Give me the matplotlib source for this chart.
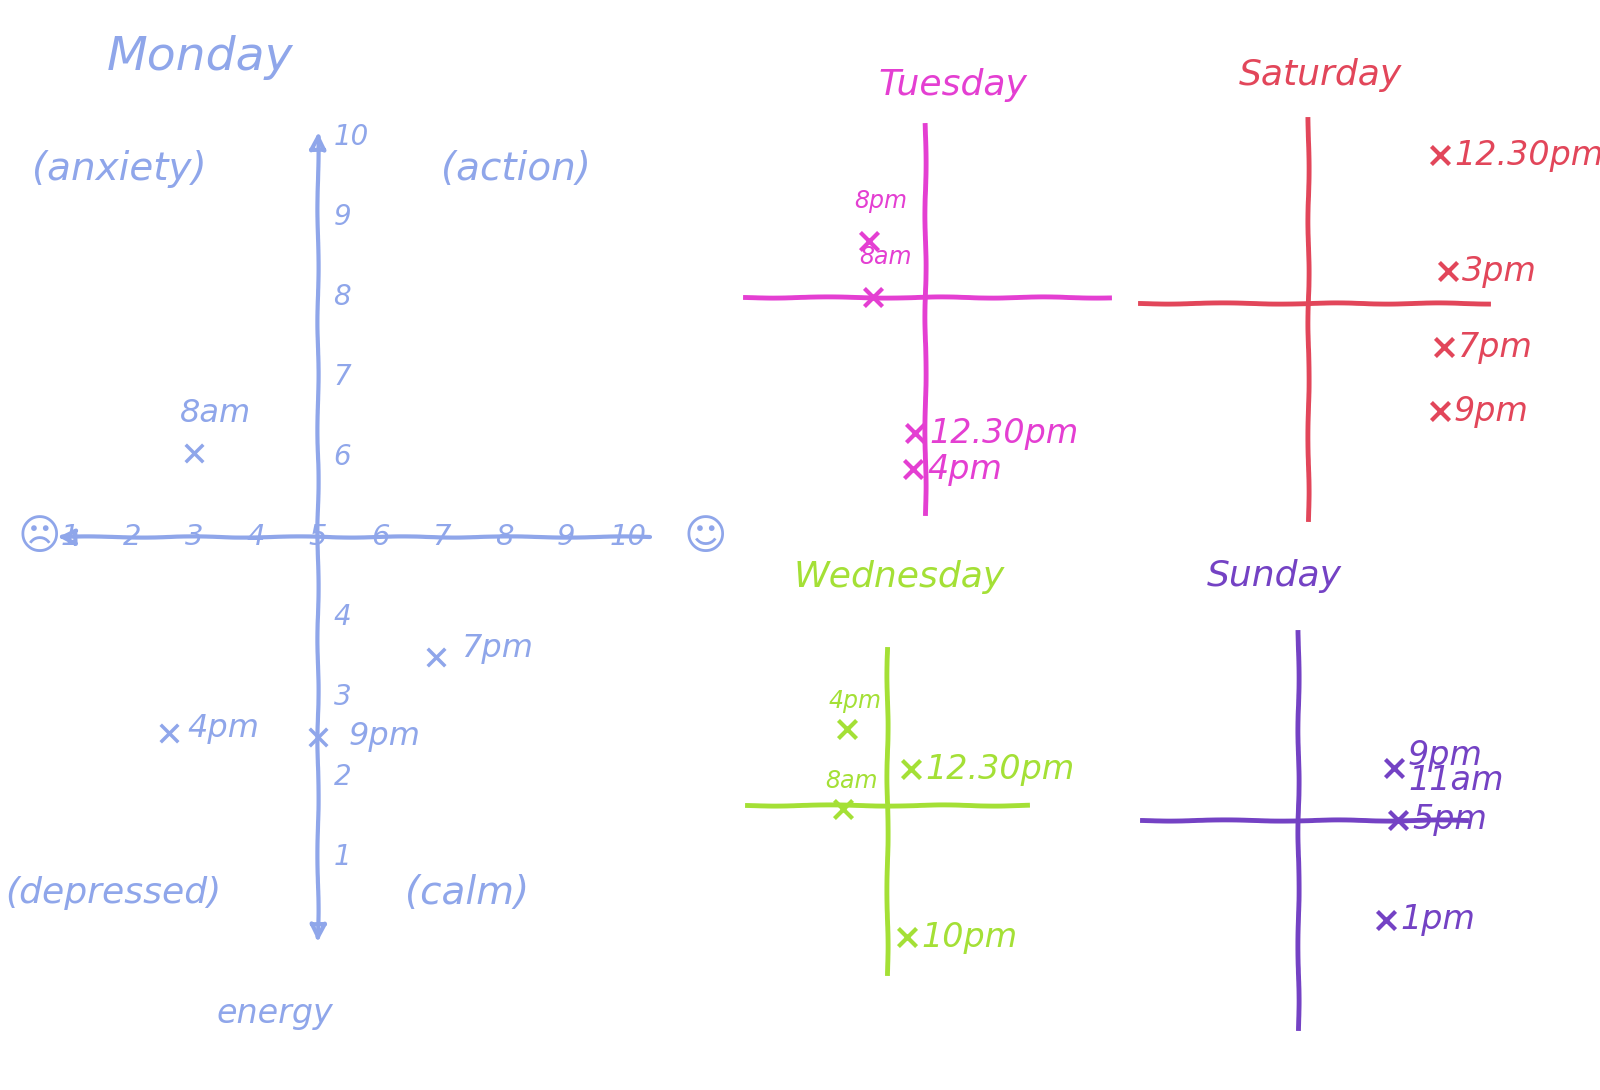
import matplotlib
matplotlib.use("Agg")
import matplotlib.pyplot as plt

plt.rcParams['font.family'] = ['DejaVu Sans']
plt.rcParams['path.sketch'] = (0.6, 120, 2)

W, H = 1600, 1090
fig = plt.figure(figsize=(16, 10.9), dpi=100)
fig.patch.set_facecolor('white')

# ---------------- Monday data ----------------
mon_color = '#8fa6ea'
mon_x_ticks = [1, 2, 3, 4, 5, 6, 7, 8, 9, 10]
mon_y_ticks_up = [6, 7, 8, 9, 10]
mon_y_ticks_down = [1, 2, 3, 4]
mon_labels = ['8am', '7pm', '4pm', '9pm']
mon_mood = [3.0, 6.9, 2.6, 5.0]
mon_energy = [6.05, 3.5, 2.55, 2.5]

# ---------------- Other days ----------------
days = ['Tuesday', 'Saturday', 'Wednesday', 'Sunday']
day_colors = ['#e43fd2', '#e2465a', '#a4e036', '#7442c4']
tue_labels = ['8pm', '8am', '12.30pm', '4pm']
tue_mood = [-1.4, -1.3, -0.25, -0.3]
tue_energy = [1.4, 0.0, -3.4, -4.3]
sat_labels = ['12.30pm', '3pm', '7pm', '9pm']
sat_mood = [3.3, 3.5, 3.4, 3.3]
sat_energy = [3.7, 0.8, -1.1, -2.7]
wed_labels = ['4pm', '8am', '12.30pm', '10pm']
wed_mood = [-1.0, -1.1, 0.6, 0.5]
wed_energy = [1.9, -0.1, 0.9, -3.3]
sun_labels = ['9pm\n11am', '5pm', '1pm']
sun_mood = [2.4, 2.5, 2.2]
sun_energy = [1.3, 0.0, -2.5]

# ---------------- Monday axes ----------------
ux, uy = 62.0, 80.0
cx0, cy0 = 318, 537
ax = fig.add_axes([0, 0, 0.45, 1])
ax.set_xlim(5 - cx0 / ux, 5 + (720 - cx0) / ux)
ax.set_ylim(5 - (H - cy0) / uy, 5 + cy0 / uy)
ax.axis('off')
ax.annotate('', xy=(5, 10.1), xytext=(5, -0.1),
            arrowprops=dict(arrowstyle='<|-|>', color=mon_color, lw=3, mutation_scale=25, fill=False))
ax.annotate('', xy=(0.75, 5), xytext=(10.4, 5),
            arrowprops=dict(arrowstyle='-|>', color=mon_color, lw=3, mutation_scale=25, fill=False))
for t in mon_x_ticks:
    ax.text(t, 5, str(t), color=mon_color, fontsize=21, ha='center', va='center', style='italic')
for t in mon_y_ticks_up + mon_y_ticks_down:
    ax.text(5.25, t, str(t), color=mon_color, fontsize=20, ha='left', va='center', style='italic')
ax.text(0.5, 5, '☹', color=mon_color, fontsize=30, ha='center', va='center')
ax.text(11.25, 5, '☺', color=mon_color, fontsize=30, ha='center', va='center')
ax.text(3.1, 11.0, 'Monday', color=mon_color, fontsize=34, ha='center', va='center', style='italic')
ax.text(1.8, 9.6, '(anxiety)', color=mon_color, fontsize=28, ha='center', va='center', style='italic')
ax.text(8.2, 9.6, '(action)', color=mon_color, fontsize=28, ha='center', va='center', style='italic')
ax.text(1.7, 0.55, '(depressed)', color=mon_color, fontsize=26, ha='center', va='center', style='italic')
ax.text(7.4, 0.55, '(calm)', color=mon_color, fontsize=28, ha='center', va='center', style='italic')
ax.text(4.3, -0.95, 'energy', color=mon_color, fontsize=24, ha='center', va='center', style='italic')
ax.scatter(mon_mood, mon_energy, marker='x', s=160, color=mon_color, linewidths=2.5)
offs = [(0.35, 0.5, 'center'), (0.4, 0.1, 'left'), (0.3, 0.05, 'left'), (0.5, 0.0, 'left')]
for lab, x, y, (dx, dy, ha) in zip(mon_labels, mon_mood, mon_energy, offs):
    ax.text(x + dx, y + dy, lab, color=mon_color, fontsize=23, ha=ha, va='center', style='italic')

# ---------------- small day charts ----------------
unit = 40.0
specs = [
    ((925, 297), (-4.5, 4.6), (-5.4, 4.3), (0.7, 5.3), tue_labels, tue_mood, tue_energy, 'left'),
    ((1308, 303), (-4.2, 4.5), (-5.4, 4.6), (0.3, 5.7), sat_labels, sat_mood, sat_energy, 'right'),
    ((887, 805), (-3.5, 3.5), (-4.2, 3.9), (0.3, 5.7), wed_labels, wed_mood, wed_energy, 'mixed'),
    ((1298, 820), (-3.9, 4.2), (-5.2, 4.7), (-0.6, 6.1), sun_labels, sun_mood, sun_energy, 'right'),
]
for day, col, (c, hx, vy, tpos, labs, xs, ys, mode) in zip(days, day_colors, specs):
    cx, cy = c
    half_w, half_h = 300, 300
    a = fig.add_axes([(cx - half_w) / W, 1 - (cy + half_h) / H, 2 * half_w / W, 2 * half_h / H])
    a.set_xlim(-half_w / unit, half_w / unit)
    a.set_ylim(-half_h / unit, half_h / unit)
    a.axis('off')
    a.plot(hx, [0, 0], color=col, lw=3.5)
    a.plot([0, 0], vy, color=col, lw=3.5)
    a.text(tpos[0], tpos[1], day, color=col, fontsize=26, ha='center', va='center', style='italic')
    a.scatter(xs, ys, marker='x', s=170, color=col, linewidths=3)
    for i, (lab, x, y) in enumerate(zip(labs, xs, ys)):
        if mode == 'left' and i < 2:
            a.text(x + 0.3, y + 0.7, lab, color=col, fontsize=17, ha='center', va='bottom', style='italic')
        elif mode == 'mixed' and i < 2:
            a.text(x + 0.2, y + 0.4, lab, color=col, fontsize=17, ha='center', va='bottom', style='italic')
        else:
            a.text(x + 0.35, y, lab, color=col, fontsize=24,
                   ha='left', va='center', style='italic', linespacing=0.7)

fig.savefig('out.png', dpi=100, facecolor='white')
